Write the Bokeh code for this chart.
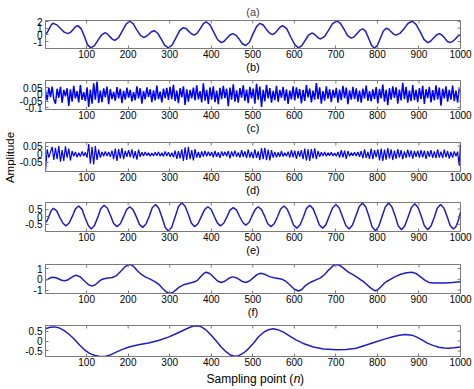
import math
from bokeh.plotting import figure
from bokeh.layouts import column, row
from bokeh.models import Range1d, FixedTicker
from bokeh.core.properties import value
from bokeh.embed import file_html
from bokeh.resources import INLINE

# ---------------- data ----------------
x_ticks = [100, 200, 300, 400, 500, 600, 700, 800, 900, 1000]

# (a) original signal
a_x = [1,5,10,15,19, 28,37,46,55, 61,67,73,79, 87,95,102,110, 119,127,136,144, 150,156,162,168,
       177,186,195,204, 212,220,229,237, 243,250,256,263, 271,280,288,297, 306,315,324,333,
       340,346,353,359, 366,374,381,388, 397,406,415,424, 431,438,445,452, 460,468,475,483,
       492,500,509,517, 525,532,540,547, 553,560,566,572, 582,591,601,610, 618,626,634,642,
       647,653,658,663, 673,683,692,702, 711,720,728,737, 744,751,758,765, 772,779,786,793,
       800,807,814,821, 827,833,839,845, 855,865,874,884, 893,903,912,921, 928,935,942,949,
       955,962,968,975, 981,988,994,1000]
a_y = [0.1,0.34,0.92,1.49,1.73, 1.50,0.96,0.41,0.18, 0.36,0.78,1.21,1.38, 0.89,-0.29,-1.47,-1.96,
       -1.63,-0.83,-0.02,0.31, 0.14,-0.27,-0.67,-0.84, -0.42,0.60,1.62,2.04, 1.68,0.82,-0.04,-0.4,
       -0.25,0.11,0.47,0.62, 0.24,-0.67,-1.58,-1.96, -1.52,-0.45,0.63,1.07, 0.91,0.52,0.12,-0.04,
       0.25,0.96,1.67,1.96, 1.50,0.40,-0.70,-1.16, -0.96,-0.49,-0.02,0.18, -0.08,-0.71,-1.34,-1.6,
       -1.11,0.07,1.24,1.73, 1.48,0.89,0.29,0.04, 0.24,0.71,1.18,1.38, 0.89,-0.29,-1.47,-1.96,
       -1.63,-0.85,-0.06,0.27, 0.14,-0.18,-0.49,-0.62, -0.22,0.74,1.69,2.09, 1.71,0.80,-0.12,-0.5,
       -0.30,0.2,0.70,0.9, 0.48,-0.55,-1.58,-2.0, -1.57,-0.51,0.55,0.98, 0.83,0.47,0.11,-0.04,
       0.26,1.0,1.74,2.04, 1.57,0.44,-0.69,-1.16, -0.96,-0.49,-0.02,0.18, -0.02,-0.49,-0.96,-1.16,
       -0.99,-0.58,-0.17,0.0]

# (b) high-frequency noise component (thousandths), every 4 samples from n=1
b_milli = [30,-45,52,-20,61,-38,-70,44,-25,58,-62,35,-15,48,-88,40,-55,66,-30,25,-60,72,-41,18,-50,
           55,-95,38,-70,85,-40,98,-65,30,-58,47,-22,60,-75,42,-35,20,-48,57,-30,44,-66,28,-40,52,
           -25,36,-52,18,-44,62,-30,48,-70,25,-38,55,-20,40,-58,32,-46,68,-35,22,-60,45,-28,50,-42,
           58,-35,74,-50,30,-66,48,-22,62,-80,40,-55,35,-30,52,-45,70,-38,25,-60,85,-48,36,-72,55,
           -40,62,-58,30,-75,50,-35,66,-28,44,-90,52,-40,78,-55,32,-62,48,-25,70,-50,38,-66,58,-30,
           45,-70,82,-40,60,-95,36,-52,74,-30,48,-62,28,-44,66,-56,35,-25,58,-48,40,-72,30,-38,62,
           -45,55,-30,42,-68,36,-50,72,-22,46,-60,30,-40,88,-35,54,-70,26,-48,62,-32,40,-58,35,-25,
           50,-62,38,-44,66,-28,52,-75,32,-40,58,-36,46,-55,30,-62,44,-30,68,-48,25,-52,40,-35,56,
           -68,42,-30,76,-55,35,-82,48,-40,62,-26,54,-70,38,-45,90,-36,58,-62,30,-50,72,-44,36,-58,
           48,-35,66,-72,40,-28,58,-60,34,-46,70,-38,52,-85,44,-30,62,-55,36,-40,68,-50,30,-62,45]

# (c) second noise component (thousandths), every 4 samples from n=1, last one at n=1000
c_milli = [-100,30,-20,15,45,-35,40,-30,50,-45,25,-40,48,-20,35,-38,20,-12,15,-18,10,-14,18,-10,12,
           -20,62,-58,45,-62,50,-35,28,-20,15,-12,18,-10,14,-16,22,-30,35,-40,32,-25,38,-30,20,-15,
           25,-18,30,-25,20,-32,28,-15,12,-10,14,-8,10,-12,8,-10,12,-9,15,-12,10,-14,18,-10,12,
           -15,10,-18,22,-28,20,-25,30,-40,42,-35,45,-30,25,-38,32,-20,15,-22,18,-14,20,-12,16,-10,
           14,-18,20,-15,12,-22,18,-10,15,-12,20,-25,18,-14,22,-16,12,-20,25,-15,18,-22,28,-20,15,
           -25,30,-22,18,-35,38,-30,40,-35,28,-38,25,-20,15,-18,12,-15,20,-14,10,-12,16,-20,25,-18,
           22,-28,20,-15,25,-30,35,-38,30,-40,32,-25,36,-30,20,-15,12,-10,14,-12,10,-8,12,-10,8,
           -12,15,-20,25,-18,22,-28,20,-12,10,-8,12,-10,14,-16,20,-25,30,-22,15,-28,35,-30,25,-18,
           30,-38,35,-40,28,-32,38,-25,30,-35,22,-28,32,-20,25,-30,18,-22,28,-18,24,-26,20,-15,22,
           -20,26,-18,22,-28,20,-15,25,-22,18,-24,30,-20,16,-22,28,-18,20,-26,15,-20,18,-12,16,-70,
           70]

# (d) oscillatory component
d_x = [0,5,10,15,20, 28,35,43,50, 58,66,73,81, 89,96,104,111, 119,127,134,142, 150,158,165,173,
       181,189,196,204, 212,220,227,235, 243,251,258,266, 274,282,289,297, 305,313,321,329,
       337,345,352,360, 368,376,384,392, 400,407,415,422, 430,438,445,453, 461,468,476,483,
       491,498,506,513, 521,529,536,544, 552,560,567,575, 583,591,598,606, 614,622,629,637,
       645,653,660,668, 676,684,692,700, 708,716,724,732, 740,748,756,764, 772,780,787,795,
       803,811,819,827, 835,843,850,858, 866,874,882,890, 898,906,913,921, 929,937,944,952,
       960,968,975,983, 988,992,996,1000]
d_y = [-0.4,-0.26,0.08,0.41,0.55, 0.38,-0.03,-0.43,-0.6, -0.41,0.05,0.51,0.7, 0.48,-0.05,-0.58,-0.8,
       -0.57,-0.03,0.52,0.75, 0.55,0.05,-0.45,-0.65, -0.46,0.0,0.46,0.65, 0.45,-0.03,-0.5,-0.7,
       -0.48,0.05,0.58,0.8, 0.54,-0.08,-0.69,-0.95, -0.68,-0.02,0.65,0.92, 0.69,0.14,-0.42,-0.65,
       -0.46,0.0,0.46,0.65, 0.47,0.03,-0.42,-0.6, -0.43,0.0,0.43,0.6, 0.43,0.03,-0.38,-0.55,
       -0.38,0.05,0.48,0.65, 0.46,0.0,-0.46,-0.65, -0.45,0.03,0.5,0.7, 0.49,-0.03,-0.54,-0.75,
       -0.53,0.0,0.53,0.75, 0.53,0.0,-0.53,-0.75, -0.52,0.03,0.57,0.8, 0.57,0.0,-0.57,-0.8,
       -0.55,0.05,0.65,0.9, 0.63,-0.01,-0.65,-0.92, -0.65,-0.01,0.63,0.9, 0.64,0.03,-0.6,-0.85,
       -0.6,0.0,0.6,0.85, 0.6,0.0,-0.6,-0.85, -0.61,-0.03,0.56,0.8, 0.57,0.0,-0.57,-0.8,
       -0.69,-0.47,-0.12,0.3]

# (e) lower-frequency component
e_x = [1,6,10,14,19,26,33,40,47,54,61,69,76,85,94,104,113,120,127,135,142,152,162,172,183,193,199,
       204,209,215,222,232,241,253,265,274,283,292,297,301,306,313,322,333,345,360,368,376,382,388,
       397,406,415,424,431,438,445,452,460,468,475,483,492,501,510,519,528,540,551,561,571,580,590,
       600,610,618,626,634,642,652,663,673,683,693,697,702,707,711,721,731,741,755,769,782,790,795,
       800,808,816,823,829,843,856,870,883,893,903,914,924,935,950,964,980,1000]
e_y = [-0.05,-0.01,0.08,0.16,0.2,0.15,0.03,-0.09,-0.14,-0.07,0.12,0.30,0.37,0.22,-0.13,-0.48,-0.63,
       -0.53,-0.29,-0.04,0.06,0.13,0.17,0.35,0.77,1.19,1.32,1.37,1.32,1.12,0.8,0.45,0.23,0.02,-0.23,
       -0.48,-0.85,-1.18,-1.27,-1.3,-1.25,-1.05,-0.75,-0.51,-0.38,-0.23,-0.05,0.3,0.55,0.66,0.52,
       0.19,-0.15,-0.29,-0.21,-0.03,0.15,0.23,0.15,-0.03,-0.21,-0.29,-0.16,0.14,0.44,0.57,0.48,0.25,
       0.14,0.08,0.0,-0.2,-0.55,-0.92,-1.09,-0.95,-0.6,-0.38,-0.23,-0.05,0.14,0.45,0.88,1.25,1.33,
       1.37,1.33,1.25,0.95,0.65,0.43,0.08,-0.29,-0.75,-0.98,-1.06,-1.0,-0.72,-0.38,-0.18,-0.06,0.25,
       0.47,0.62,0.66,0.55,0.25,-0.08,-0.29,-0.34,-0.35,-0.34,-0.3,-0.23]

# (f) trend component
f_x = [1,12,23,35,47,59,71,83,95,107,120,130,138,146,155,170,186,202,225,249,273,297,315,333,349,
       357,364,370,376,388,400,412,424,436,446,456,466,478,490,502,514,527,538,549,560,575,590,605,
       625,646,670,702,725,749,773,797,817,837,853,868,883,895,908,920,935,948,960,971,985,1000]
f_y = [0.63,0.7,0.72,0.66,0.52,0.32,0.08,-0.2,-0.44,-0.62,-0.73,-0.77,-0.78,-0.77,-0.72,-0.57,-0.42,
       -0.3,-0.18,-0.1,0.03,0.2,0.37,0.55,0.7,0.76,0.78,0.77,0.72,0.55,0.3,0.0,-0.3,-0.55,-0.7,-0.77,
       -0.74,-0.6,-0.38,-0.1,0.22,0.46,0.58,0.62,0.58,0.44,0.24,0.05,-0.15,-0.3,-0.4,-0.44,-0.42,
       -0.36,-0.2,-0.03,0.1,0.22,0.3,0.33,0.3,0.2,0.05,-0.1,-0.23,-0.31,-0.35,-0.36,-0.34,-0.3]

titles = ["(a)", "(b)", "(c)", "(d)", "(e)", "(f)"]
x_label_parts = ["Sampling point (", "n", ")"]
y_label = "Amplitude"
y_ranges = [(-2.05, 2.15), (-0.115, 0.107), (-0.105, 0.072), (-0.97, 0.93), (-1.32, 1.38), (-0.78, 0.79)]
y_tick_sets = [[-1, 0, 1, 2], [-0.1, -0.05, 0, 0.05], [-0.05, 0, 0.05], [-0.5, 0, 0.5], [-1, 0, 1], [-0.5, 0, 0.5]]
y_tick_texts = [["-1", "0", "1", "2"], ["-0.1", "-0.05", "0", "0.05"], ["-0.05", "0", "0.05"],
                ["-0.5", "0", "0.5"], ["-1", "0", "1"], ["-0.5", "0", "0.5"]]

b_x = list(range(1, 1 + 4 * len(b_milli), 4))
b_y = [v / 1000 for v in b_milli]
c_x = list(range(1, 1 + 4 * (len(c_milli) - 1), 4)) + [1000]
c_y = [v / 1000 for v in c_milli]

series = [(a_x, a_y), (b_x, b_y), (c_x, c_y), (d_x, d_y), (e_x, e_y), (f_x, f_y)]

# ---------------- styling / layout ----------------
FONT = "Liberation Sans"
GRAY = "#7a7a7a"
SMOOTH = "#1e1ec0"
NOISE = "#0000ff"
AMP_W = 16
W = 474 - AMP_W
ML, MR = 27, 14
tops = [19, 5, 6, 4, 6, 5]
FRAME_H = 31
bottoms = [25, 25, 25, 25, 25, 14]
heights = [t + FRAME_H + b for t, b in zip(tops, bottoms)]
XLAB_H = 16
TOTAL_H = sum(heights) + XLAB_H

figs = []
for i in range(6):
    xs, ys = series[i]
    kw = dict(title=titles[0]) if i == 0 else dict(title=None)
    p = figure(width=W, height=heights[i], x_range=Range1d(1, 1000), y_range=Range1d(*y_ranges[i]),
               output_backend="svg", toolbar_location=None,
               min_border_left=ML, min_border_right=MR, min_border_top=tops[i],
               min_border_bottom=bottoms[i], **kw)
    if i == 0:
        p.title.align = "center"
        p.title.text_font = FONT
        p.title.text_font_size = "11px"
        p.title.text_font_style = "normal"
        p.title.standoff = 6
    p.xgrid.visible = False
    p.ygrid.visible = False
    p.outline_line_color = GRAY
    p.background_fill_color = "white"
    p.border_fill_color = "white"

    noisy = i in (1, 2)
    lw = 1.5 if i == 1 else (1.2 if i == 2 else 1.5)
    p.line(xs, ys, line_color=NOISE if noisy else SMOOTH, line_width=lw)

    # inward tick marks on the top and right edges (box style)
    yt_vals = y_tick_sets[i]
    p.ray(x=x_ticks, y=[y_ranges[i][1]] * len(x_ticks), length=3, length_units="screen",
          angle=-math.pi / 2, line_color=GRAY, line_width=1)
    p.ray(x=[1000] * len(yt_vals), y=yt_vals, length=3, length_units="screen",
          angle=math.pi, line_color=GRAY, line_width=1)

    xax = p.below[0]
    yax = p.left[0]
    xax.ticker = FixedTicker(ticks=x_ticks)
    yax.ticker = FixedTicker(ticks=yt_vals)
    yax.major_label_overrides = dict(zip(yt_vals, y_tick_texts[i]))
    for ax in (xax, yax):
        ax.major_tick_in = 3
        ax.major_tick_out = 0
        ax.minor_tick_line_color = None
        ax.axis_line_color = GRAY
        ax.major_tick_line_color = GRAY
        ax.major_label_text_font = FONT
        ax.major_label_text_font_size = "10px"
        ax.major_label_text_color = "black"
        ax.axis_label_text_font = FONT
        ax.axis_label_text_font_style = "normal"
        ax.axis_label_text_color = "black"
    xax.major_label_standoff = 1
    yax.major_label_standoff = 3

    # the title of the next panel sits under this panel's tick labels
    if i < 5:
        xax.axis_label = titles[i + 1]
        xax.axis_label_text_font_size = "11px"
        xax.axis_label_standoff = 0
    figs.append(p)

# bottom strip with the x label ("n" in italics)
xl = figure(width=W, height=XLAB_H, x_range=Range1d(0, W), y_range=Range1d(0, XLAB_H),
            output_backend="svg", toolbar_location=None, min_border=0, title=None,
            x_axis_location=None, y_axis_location=None, outline_line_color=None)
xl.xgrid.visible = False
xl.ygrid.visible = False
cx = ML + (W - ML - MR) / 2
common = dict(y=[XLAB_H / 2], text_baseline="middle", text_font=value(FONT),
              text_font_size=value("12px"), text_color="black")
xl.text(x=[cx + 38], text=[x_label_parts[0]], text_align="right", **common)
xl.text(x=[cx + 38.5], text=[x_label_parts[1]], text_align="left",
        text_font_style=value("italic"), **common)
xl.text(x=[cx + 45.5], text=[x_label_parts[2]], text_align="left", **common)

# narrow strip on the left carrying the shared y label
amp = figure(width=AMP_W, height=TOTAL_H, x_range=Range1d(0, AMP_W), y_range=Range1d(0, TOTAL_H),
             output_backend="svg", toolbar_location=None, min_border=0, title=None,
             x_axis_location=None, y_axis_location=None, outline_line_color=None)
amp.xgrid.visible = False
amp.ygrid.visible = False
amp.text(x=[9.5], y=[TOTAL_H - 157], text=[y_label], angle=math.pi / 2,
         text_align="center", text_baseline="middle", text_font=value(FONT),
         text_font_size=value("11.5px"), text_color="black")

layout = row(amp, column(*figs, xl))
open("out.html", "w").write(file_html(layout, INLINE))
